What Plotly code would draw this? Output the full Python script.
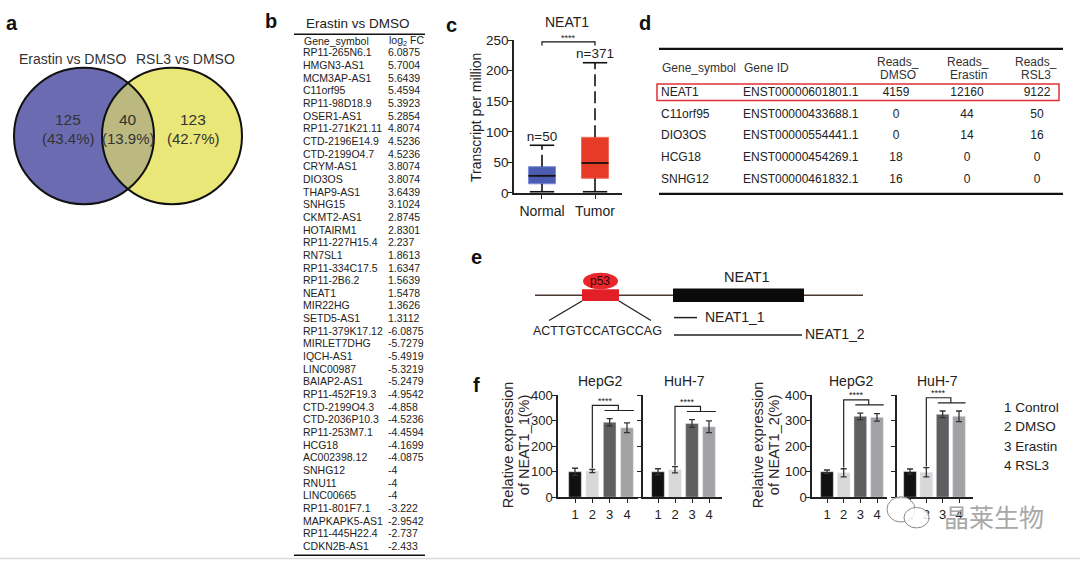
import numpy as np
import plotly.graph_objects as go

W, H = 1080, 569
FONT = "Arial, 'Liberation Sans', sans-serif"
TXT = "#222222"

# ---------------- data ----------------
venn_labels = ["Erastin vs DMSO", "RSL3 vs DMSO"]
venn_counts = [125, 40, 123]
venn_percents = ["43.4%", "13.9%", "42.7%"]

b_title = "Erastin vs DMSO"
b_header = ["Gene_symbol", "log<sub>2</sub> FC"]
b_genes = ["RP11-265N6.1", "HMGN3-AS1", "MCM3AP-AS1", "C11orf95", "RP11-98D18.9", "OSER1-AS1",
           "RP11-271K21.11", "CTD-2196E14.9", "CTD-2199O4.7", "CRYM-AS1", "DIO3OS", "THAP9-AS1",
           "SNHG15", "CKMT2-AS1", "HOTAIRM1", "RP11-227H15.4", "RN7SL1", "RP11-334C17.5",
           "RP11-2B6.2", "NEAT1", "MIR22HG", "SETD5-AS1", "RP11-379K17.12", "MIRLET7DHG",
           "IQCH-AS1", "LINC00987", "BAIAP2-AS1", "RP11-452F19.3", "CTD-2199O4.3",
           "CTD-2036P10.3", "RP11-253M7.1", "HCG18", "AC002398.12", "SNHG12", "RNU11",
           "LINC00665", "RP11-801F7.1", "MAPKAPK5-AS1", "RP11-445H22.4", "CDKN2B-AS1"]
b_log2fc = [6.0875, 5.7004, 5.6439, 5.4594, 5.3923, 5.2854, 4.8074, 4.5236, 4.5236, 3.8074,
            3.8074, 3.6439, 3.1024, 2.8745, 2.8301, 2.237, 1.8613, 1.6347, 1.5639, 1.5478,
            1.3626, 1.3112, -6.0875, -5.7279, -5.4919, -5.3219, -5.2479, -4.9542, -4.858,
            -4.5236, -4.4594, -4.1699, -4.0875, -4, -4, -4, -3.222, -2.9542, -2.737, -2.433]

c_title = "NEAT1"
c_groups = ["Normal", "Tumor"]
c_n = [50, 371]
c_q1 = [15, 24]
c_median = [28, 49]
c_q3 = [43, 91]
c_low = [2, 2]
c_high = [78, 213]
c_sig = "****"

d_header = ["Gene_symbol", "Gene ID", "DMSO", "Erastin", "RSL3"]
d_genes = ["NEAT1", "C11orf95", "DIO3OS", "HCG18", "SNHG12"]
d_ids = ["ENST00000601801.1", "ENST00000433688.1", "ENST00000554441.1",
         "ENST00000454269.1", "ENST00000461832.1"]
d_reads_dmso = [4159, 0, 0, 18, 16]
d_reads_erastin = [12160, 44, 14, 0, 0]
d_reads_rsl3 = [9122, 50, 16, 0, 0]

e_sequence = "ACTTGTCCATGCCAG"
e_labels = ["p53", "NEAT1", "NEAT1_1", "NEAT1_2"]

f_conditions = ["1", "2", "3", "4"]
f_legend = ["1 Control", "2 DMSO", "3 Erastin", "4 RSL3"]
f_cells = ["HepG2", "HuH-7", "HepG2", "HuH-7"]
f_transcripts = ["NEAT1_1", "NEAT1_1", "NEAT1_2", "NEAT1_2"]
neat1_1_hepg2 = [100, 103, 295, 273]
neat1_1_hepg2_sd = [14, 6, 14, 19]
neat1_1_huh7 = [100, 108, 290, 277]
neat1_1_huh7_sd = [12, 12, 15, 23]
neat1_2_hepg2 = [100, 96, 318, 314]
neat1_2_hepg2_sd = [7, 16, 13, 15]
neat1_2_huh7 = [101, 98, 326, 318]
neat1_2_huh7_sd = [10, 18, 13, 21]
f_sig = "****"

# ---------------- helpers ----------------
def X(p):
    return p / W

def Y(p):
    return 1 - p / H

shapes = []
ann = []

def text(x, y, s, size, color=TXT, xanchor="center", yanchor="middle", angle=0, family=FONT):
    ann.append(dict(x=X(x), y=Y(y), xref="paper", yref="paper", text=s, showarrow=False,
                    xanchor=xanchor, yanchor=yanchor, textangle=angle, borderpad=0,
                    font=dict(size=size, color=color, family=family)))

def domtext(x, yfrac, s, size, xref, yref):
    # x in data units of xref, y as a fraction of the y-axis domain (may exceed 1)
    ann.append(dict(x=x, y=yfrac, xref=xref, yref=yref + " domain", text=s, showarrow=False,
                    xanchor="center", yanchor="middle", borderpad=0,
                    font=dict(size=size, color=TXT, family=FONT)))

def axtext(x, y, s, size, xref, yref, xanchor="center", yanchor="middle"):
    ann.append(dict(x=x, y=y, xref=xref, yref=yref, text=s, showarrow=False,
                    xanchor=xanchor, yanchor=yanchor, borderpad=0,
                    font=dict(size=size, color=TXT, family=FONT)))

def pline(x0, y0, x1, y1, color="#111", width=1.5, dash=None):
    ln = dict(color=color, width=width)
    if dash:
        ln["dash"] = dash
    shapes.append(dict(type="line", xref="paper", yref="paper", x0=X(x0), y0=Y(y0),
                       x1=X(x1), y1=Y(y1), line=ln))

def prect(x0, y0, x1, y1, fill=None, color=None, width=0):
    shapes.append(dict(type="rect", xref="paper", yref="paper", x0=X(x0), y0=Y(y1),
                       x1=X(x1), y1=Y(y0), fillcolor=fill if fill else "rgba(0,0,0,0)",
                       line=dict(color=color if color else "rgba(0,0,0,0)", width=width)))

def pellipse(x0, y0, x1, y1, fill=None, color=None, width=0):
    shapes.append(dict(type="circle", xref="paper", yref="paper", x0=X(x0), y0=Y(y1),
                       x1=X(x1), y1=Y(y0), fillcolor=fill if fill else "rgba(0,0,0,0)",
                       line=dict(color=color if color else "rgba(0,0,0,0)", width=width)))

fig = go.Figure()
hidden = dict(visible=False, showgrid=False, zeroline=False, fixedrange=True)

# ---------------- panel labels ----------------
for lab, x, y in [("a", 12, 16), ("b", 271, 14), ("c", 451, 18), ("d", 645, 16),
                  ("e", 476, 257), ("f", 476, 388)]:
    text(x, y, "<b>%s</b>" % lab, 20, color="#111")

# ---------------- panel a : Venn ----------------
LC, RC, RAD = (84.0, 132.5), (172.0, 132.5), 70.0
pellipse(LC[0] - RAD, LC[1] - RAD, LC[0] + RAD, LC[1] + RAD, fill="#6b6bb2")
pellipse(RC[0] - RAD, RC[1] - RAD, RC[0] + RAD, RC[1] + RAD, fill="#e9e777")
half = (RC[0] - LC[0]) / 2
th = np.arccos(half / RAD)
t1 = np.linspace(-th, th, 50)
t2 = np.linspace(np.pi - th, np.pi + th, 50)
xs = np.concatenate([LC[0] + RAD * np.cos(t1), RC[0] + RAD * np.cos(t2)])
ys = np.concatenate([LC[1] + RAD * np.sin(t1), RC[1] + RAD * np.sin(t2)])
path = "M " + " L ".join("%.5f,%.5f" % (X(a), Y(b)) for a, b in zip(xs, ys)) + " Z"
shapes.append(dict(type="path", xref="paper", yref="paper", path=path,
                   fillcolor="#bbb980", line=dict(width=0)))
pellipse(LC[0] - RAD, LC[1] - RAD, LC[0] + RAD, LC[1] + RAD, color="#111", width=2)
pellipse(RC[0] - RAD, RC[1] - RAD, RC[0] + RAD, RC[1] + RAD, color="#111", width=2)
text(72, 53, venn_labels[0], 14, color="#333")
text(185, 53, venn_labels[1], 14, color="#333")
for cx, cnt, pct in zip([68, 128, 193], venn_counts, venn_percents):
    text(cx, 116, str(cnt), 15.5, color="#333")
    text(cx, 135, "(%s)" % pct, 15, color="#333")

# ---------------- panel b : table ----------------
text(358, 17, b_title, 13.5, color="#222")
pline(294, 28, 425, 28, width=1.5)
pline(294, 563, 425, 563, width=1.5)
rows_b = list(range(1, len(b_genes) + 1))
bfont = dict(size=10.5, color=TXT, family=FONT)
axtext(0, 0, b_header[0], 10.5, "x6", "y6", xanchor="left")
axtext(1, 0, b_header[1], 10.5, "x6", "y6", xanchor="left")
fig.add_trace(go.Scatter(x=[0] * len(b_genes), y=rows_b, text=b_genes, mode="text",
                         textposition="middle right", cliponaxis=False, hoverinfo="skip",
                         textfont=bfont, xaxis="x6", yaxis="y6"))
fig.add_trace(go.Scatter(x=[1] * len(b_log2fc), y=rows_b, text=["%g" % v for v in b_log2fc],
                         mode="text", textposition="middle right", cliponaxis=False,
                         hoverinfo="skip", textfont=bfont, xaxis="x6", yaxis="y6"))

# ---------------- panel c : box plot ----------------
C_YMAX = 250
c_fill = ["#4b5db3", "#e63b26"]
c_edge = ["#7d8ed6", "#f26e5c"]
cx_pos = list(range(len(c_groups)))
fig.add_trace(go.Bar(x=cx_pos, y=[q3 - q1 for q1, q3 in zip(c_q1, c_q3)], base=c_q1, width=0.51,
                     marker=dict(color=c_fill, line=dict(color=c_edge, width=1)),
                     hoverinfo="skip", xaxis="x", yaxis="y"))
mx, my, lx, ly, ux, uy = [], [], [], [], [], []
for i in cx_pos:
    mx += [i - 0.255, i + 0.255, None]
    my += [c_median[i], c_median[i], None]
    lx += [i, i, None, i - 0.23, i + 0.23, None, i - 0.23, i + 0.23, None]
    ly += [c_q1[i], c_low[i], None, c_low[i], c_low[i], None, c_high[i], c_high[i], None]
    ux += [i, i, None]
    uy += [c_q3[i], c_high[i], None]
fig.add_trace(go.Scatter(x=lx, y=ly, mode="lines", line=dict(color="#111", width=1.6),
                         hoverinfo="skip", xaxis="x", yaxis="y"))
fig.add_trace(go.Scatter(x=ux, y=uy, mode="lines",
                         line=dict(color="#111", width=1.6, dash="12px,5px"),
                         hoverinfo="skip", xaxis="x", yaxis="y"))
fig.add_trace(go.Scatter(x=mx, y=my, mode="lines", line=dict(color="#1a1010", width=1.8),
                         hoverinfo="skip", xaxis="x", yaxis="y"))
fig.add_trace(go.Scatter(x=cx_pos, y=[h + 13 for h in c_high], text=["n=%d" % n for n in c_n],
                         mode="text", cliponaxis=False, hoverinfo="skip",
                         textfont=dict(size=13.5, color=TXT, family=FONT), xaxis="x", yaxis="y"))
fig.add_trace(go.Scatter(x=[0, 0, 1, 1], y=[241, 247, 247, 241], mode="lines",
                         line=dict(color="#111", width=1.2), hoverinfo="skip",
                         xaxis="x", yaxis="y"))
domtext(0.5, 254 / C_YMAX, c_sig, 9, "x", "y")
text(567, 15, c_title, 14, color="#222")
text(476, 114, "Transcript per million", 14, color="#222", angle=-90)

# ---------------- panel d : table ----------------
pline(659, 43, 1063, 43, width=2.2)
pline(659, 192, 1063, 192, width=2.2)
prect(657, 79, 1059, 96, color="#e0303a", width=1.5)
text(661, 63, d_header[0], 12, xanchor="left", color="#333")
text(743, 63, d_header[1], 12, xanchor="left", color="#333")
for cxp, name in zip([898, 968, 1036], d_header[2:]):
    text(cxp, 56, "Reads_", 12, color="#333")
    text(cxp, 70, name, 12, color="#333")
rows_d = list(range(len(d_genes)))
dfont = dict(size=12, color="#222", family=FONT)
fig.add_trace(go.Scatter(x=[661] * len(d_genes), y=rows_d, text=d_genes, mode="text",
                         textposition="middle right", cliponaxis=False, hoverinfo="skip",
                         textfont=dfont, xaxis="x7", yaxis="y7"))
fig.add_trace(go.Scatter(x=[743] * len(d_ids), y=rows_d, text=d_ids, mode="text",
                         textposition="middle right", cliponaxis=False, hoverinfo="skip",
                         textfont=dfont, xaxis="x7", yaxis="y7"))
for colx, vals in zip([896, 967, 1037], [d_reads_dmso, d_reads_erastin, d_reads_rsl3]):
    fig.add_trace(go.Scatter(x=[colx] * len(vals), y=rows_d, text=[str(v) for v in vals],
                             mode="text", textposition="middle center", cliponaxis=False,
                             hoverinfo="skip", textfont=dfont, xaxis="x7", yaxis="y7"))

# ---------------- panel e : diagram ----------------
pline(535, 296, 863, 296, color="#4a3833", width=1.6)
prect(582, 290, 619, 302, fill="#e21f26")
pellipse(583, 273, 618, 290, fill="#e8262c")
text(600, 281.5, e_labels[0], 12, color="#3a0808")
prect(673, 289, 804, 303, fill="#0a0a0a")
text(747, 277, e_labels[1], 14.5, color="#222")
pline(582, 302, 549, 322, color="#222", width=1.3)
pline(619, 302, 651, 322, color="#222", width=1.3)
text(597, 333, e_sequence, 12.5, color="#222")
pline(674, 319, 697, 319, color="#222", width=1.5)
text(704, 318, e_labels[2], 14, xanchor="left", color="#222")
pline(674, 337, 802, 337, color="#222", width=1.5)
text(804, 336, e_labels[3], 14, xanchor="left", color="#222")

# ---------------- panel f : bar charts ----------------
F_YMAX = 400
f_colors = ["#111111", "#d8d8d8", "#5f5f5f", "#a2a2a4"]
f_means = [neat1_1_hepg2, neat1_1_huh7, neat1_2_hepg2, neat1_2_huh7]
f_sds = [neat1_1_hepg2_sd, neat1_1_huh7_sd, neat1_2_hepg2_sd, neat1_2_huh7_sd]
F_AX = [(558, 638), (643, 722), (812, 887), (897, 973)]
F_B1 = [575, 658, 827, 910]
F_B4 = [627, 709, 877, 959]
F_TOP, F_BOT = 399, 503.5
xs_f = [1, 2, 3, 4]
layout_axes = {}
for k in range(4):
    xa, ya = "x%d" % (k + 2), "y%d" % (k + 2)
    s = (F_B4[k] - F_B1[k]) / 3.0
    rng = [1 - (F_B1[k] - F_AX[k][0]) / s, 4 + (F_AX[k][1] - F_B4[k]) / s]
    fig.add_trace(go.Bar(x=xs_f, y=f_means[k], width=12.7 / s, marker=dict(color=f_colors),
                         error_y=dict(type="data", array=f_sds[k], visible=True, color="#333",
                                      thickness=1.3, width=3),
                         hoverinfo="skip", xaxis=xa, yaxis=ya))
    tops = [m + e for m, e in zip(f_means[k], f_sds[k])]
    lvl = min(max(tops[2], tops[3]) + 52, 392)
    fig.add_trace(go.Scatter(x=[2, 2, 3.5, 3.5, None, 2.7, 4.4],
                             y=[tops[1] + 5, lvl, lvl, lvl - 20, None, lvl - 20, lvl - 20],
                             mode="lines", line=dict(color="#222", width=1.2),
                             hoverinfo="skip", xaxis=xa, yaxis=ya))
    domtext(2.75, (lvl + 17) / F_YMAX, f_sig, 9, xa, ya)
    layout_axes["xaxis%d" % (k + 2)] = dict(
        domain=[X(F_AX[k][0]), X(F_AX[k][1])], range=rng, anchor=ya,
        tickvals=xs_f, ticktext=f_conditions, ticks="outside", ticklen=4, tickwidth=1.3,
        tickcolor="#222", showline=True, linecolor="#222", linewidth=1.5,
        showgrid=False, zeroline=False, fixedrange=True,
        tickfont=dict(size=13, color=TXT, family=FONT))
    layout_axes["yaxis%d" % (k + 2)] = dict(
        domain=[Y(F_BOT), Y(F_TOP)], range=[0, F_YMAX], anchor=xa,
        tickvals=[0, 100, 200, 300, 400], ticks="outside", ticklen=4, tickwidth=1.3,
        tickcolor="#222", showline=True, linecolor="#222", linewidth=1.5,
        showticklabels=(k % 2 == 0), showgrid=False, zeroline=False, fixedrange=True,
        ticklabelstandoff=-3, tickfont=dict(size=13, color=TXT, family=FONT))
    text((F_AX[k][0] + F_AX[k][1]) / 2 + 2, 384, f_cells[k], 14, color="#222")

for x1, x2, tr in [(508, 524, f_transcripts[0]), (758, 774, f_transcripts[2])]:
    text(x1, 450, "Relative expression", 14.5, color="#2e2626", angle=-90)
    text(x2, 450, "of %s(%%)" % tr, 14.5, color="#2e2626", angle=-90)

for i, lab in enumerate(f_legend):
    text(1003, 411 + 20 * i, lab, 13.5, xanchor="left", color="#222")

# ---------------- watermark ----------------
pellipse(887, 503, 915, 529, fill="rgba(255,255,255,0.85)", color="#8a8a8a", width=1)
pellipse(904, 514, 929, 535, fill="rgba(255,255,255,0.85)", color="#8a8a8a", width=1)
text(994, 523, "晶莱生物", 25, color="#a8a8a8", family="Noto Sans CJK SC")
pline(0, 566.5, 1080, 566.5, color="#dcdcdc", width=1.5)

# ---------------- layout ----------------
layout_axes["xaxis"] = dict(domain=[X(514), X(622)], range=[-0.528, 1.509], anchor="y",
                            tickvals=cx_pos, ticktext=c_groups, ticks="outside", ticklen=4,
                            tickwidth=1.3, tickcolor="#222", showline=True, linecolor="#222",
                            linewidth=1.5, showgrid=False, zeroline=False, fixedrange=True,
                            tickfont=dict(size=14, color=TXT, family=FONT))
layout_axes["yaxis"] = dict(domain=[Y(191), Y(34)], range=[0, C_YMAX], anchor="x",
                            tickvals=[0, 50, 100, 150, 200, 250], ticks="outside", ticklen=4,
                            tickwidth=1.3, tickcolor="#222", showline=True, linecolor="#222",
                            linewidth=1.5, showgrid=False, zeroline=False, fixedrange=True,
                            ticklabelstandoff=-3,
                            tickfont=dict(size=13.5, color=TXT, family=FONT))
# panel b table coordinates (column units / row units)
layout_axes["xaxis6"] = dict(domain=[X(294), X(425)], range=[-9 / 85.0, 122 / 85.0],
                             anchor="y6", **hidden)
layout_axes["yaxis6"] = dict(domain=[Y(563), Y(28)], range=[(563 - 35) / 13.0, (28 - 35) / 13.0],
                             anchor="x6", **hidden)
# panel d table coordinates
layout_axes["xaxis7"] = dict(domain=[X(659), X(1063)], range=[659, 1063], anchor="y7", **hidden)
layout_axes["yaxis7"] = dict(domain=[Y(192), Y(43)], range=[(192 - 88) / 22.5, (43 - 88) / 22.5],
                             anchor="x7", **hidden)

fig.update_layout(width=W, height=H, margin=dict(l=0, r=0, t=0, b=0),
                  paper_bgcolor="white", plot_bgcolor="rgba(0,0,0,0)", showlegend=False,
                  barmode="overlay", font=dict(family=FONT, color=TXT),
                  shapes=shapes, annotations=ann, **layout_axes)
fig.write_html("out.html", config={"displayModeBar": False},
               post_script="document.body.style.margin='0px';document.body.style.overflow='hidden';")
